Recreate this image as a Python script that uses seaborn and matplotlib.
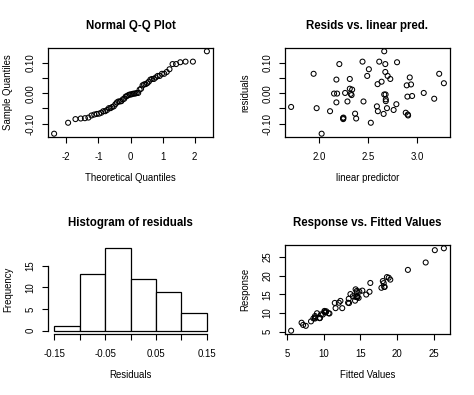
"""
gam_check.py
------------
Four-panel model check (Q-Q, residuals vs linear predictor,
histogram of residuals, response vs fitted) drawn R-style.
"""

import statistics
import numpy as np
import pandas as pd
import matplotlib
matplotlib.use("Agg")
import matplotlib.pyplot as plt
import seaborn as sns

# one entry per observation (58), paired across the four lists
linear_pred = [1.712, 1.942, 1.973, 2.024, 2.110, 2.151, 2.182, 2.175, 2.175, 2.205,
               2.243, 2.245, 2.247, 2.264, 2.288, 2.312, 2.312, 2.336, 2.322, 2.366,
               2.377, 2.442, 2.452, 2.490, 2.507, 2.527, 2.589, 2.599, 2.596, 2.613,
               2.637, 2.658, 2.664, 2.675, 2.675, 2.664, 2.678, 2.680, 2.680, 2.699,
               2.692, 2.726, 2.760, 2.788, 2.795, 2.894, 2.901, 2.884, 2.908, 2.905,
               2.925, 2.938, 2.949, 3.068, 3.175, 3.226, 3.274, 2.330]
residuals = [-0.045, 0.064, -0.049, -0.133, -0.059, -0.001, -0.001, -0.030, 0.045, 0.096,
             -0.082, -0.085, -0.080, 0.001, -0.027, 0.047, 0.015, 0.012, -0.002, -0.067,
             -0.083, 0.104, -0.027, 0.057, 0.079, -0.097, -0.043, -0.059, 0.030, 0.104,
             0.038, -0.068, 0.138, 0.096, 0.070, -0.004, -0.004, -0.020, -0.026, 0.057,
             -0.049, 0.047, -0.055, -0.036, 0.102, 0.026, -0.011, -0.064, -0.073, -0.070,
             0.052, 0.029, -0.009, 0.001, -0.018, 0.064, 0.033, -0.006]
fitted = [5.53, 6.96, 7.17, 7.54, 8.25, 8.58, 8.85, 8.80, 8.80, 9.07,
          9.42, 9.44, 9.46, 9.62, 9.86, 10.09, 10.09, 10.34, 10.20, 10.65,
          10.77, 11.50, 11.61, 12.06, 12.27, 12.52, 13.32, 13.45, 13.41, 13.64,
          13.97, 14.27, 14.35, 14.51, 14.51, 14.35, 14.56, 14.58, 14.58, 14.86,
          14.76, 15.27, 15.80, 16.25, 16.36, 18.07, 18.19, 17.88, 18.32, 18.26,
          18.63, 18.88, 19.09, 21.50, 23.93, 25.18, 26.42, 10.28]
response = [5.28, 7.41, 6.82, 6.58, 7.77, 8.57, 8.84, 8.54, 9.20, 9.94,
            8.65, 8.64, 8.70, 9.63, 9.59, 10.56, 10.24, 10.46, 10.18, 9.94,
            9.88, 12.70, 11.30, 12.75, 13.24, 11.30, 12.75, 12.66, 13.81, 15.06,
            14.50, 13.30, 16.33, 15.90, 15.53, 14.29, 14.50, 14.29, 14.20, 15.71,
            14.04, 15.99, 14.93, 15.67, 18.03, 18.54, 17.99, 16.74, 16.98, 16.98,
            19.60, 19.43, 18.92, 21.52, 23.50, 26.79, 27.29, 10.22]
hist_breaks = [-0.15, -0.10, -0.05, 0.00, 0.05, 0.10, 0.15]

FONT = ["Liberation Sans", "DejaVu Sans"]
TICK_FS = 6.9
TITLE_FS = 8.3


def r_lim(vals):
    """R's default axis range: data range widened by 4% each side."""
    lo, hi = min(vals), max(vals)
    pad = (hi - lo) * 0.04
    return lo - pad, hi + pad


def r_style(ax, title, xlabel, ylabel, box=True):
    ax.set_title(title, fontsize=TITLE_FS, fontweight="bold", pad=13.5, color="black")
    ax.set_xlabel(xlabel, fontsize=TICK_FS)
    ax.set_ylabel(ylabel, fontsize=TICK_FS)
    ax.xaxis.set_label_coords(0.5, -0.41)
    ax.yaxis.set_label_coords(-0.21, 0.5)
    ax.tick_params(axis="both", direction="out", length=4, width=0.8,
                   labelsize=TICK_FS, color="black")
    ax.tick_params(axis="x", pad=6.5)
    ax.tick_params(axis="y", pad=5, labelrotation=90)
    for lab in ax.get_yticklabels():
        lab.set_va("center")
    for side in ax.spines.values():
        side.set_color("black")
        side.set_linewidth(0.9)
    if not box:
        ax.spines["top"].set_visible(False)
        ax.spines["right"].set_visible(False)
    ax.grid(False)


def sparse_labels(ticks, keep):
    return [f"{t:.2f}" if k else "" for t, k in zip(ticks, keep)]


sns.set_style("ticks")
plt.rcParams["font.family"] = FONT
plt.rcParams["axes.unicode_minus"] = False
plt.rcParams["text.color"] = "black"
plt.rcParams["axes.labelcolor"] = "black"
plt.rcParams["xtick.labelcolor"] = "black"
plt.rcParams["ytick.labelcolor"] = "black"

df = pd.DataFrame({"lp": linear_pred, "resid": residuals,
                   "fitted": fitted, "response": response})

# Q-Q: sorted residuals against normal quantiles of ppoints(n)
n = len(residuals)
nd = statistics.NormalDist()
qq = pd.DataFrame({
    "theo": [nd.inv_cdf((i + 0.5) / n) for i in range(n)],
    "sample": sorted(residuals),
})

fig = plt.figure(figsize=(4.74, 3.95), dpi=100)
W, H = 474, 395
boxes = [(48, 48), (285, 48), (48, 245), (285, 245)]
axes = [fig.add_axes([x / W, 1 - (y + 89) / H, 165 / W, 89 / H]) for x, y in boxes]

mk = dict(marker="o", s=13, facecolor="none", edgecolor="black", linewidth=0.75)
res_ticks = [-0.10, -0.05, 0.00, 0.05, 0.10]
res_keep = [True, False, True, False, True]

ax = axes[0]
sns.scatterplot(data=qq, x="theo", y="sample", ax=ax, **mk)
ax.set_xlim(r_lim(qq["theo"]))
ax.set_ylim(r_lim(residuals))
ax.set_xticks([-2, -1, 0, 1, 2])
ax.set_yticks(res_ticks)
ax.set_yticklabels(sparse_labels(res_ticks, res_keep))
r_style(ax, "Normal Q-Q Plot", "Theoretical Quantiles", "Sample Quantiles")

ax = axes[1]
sns.scatterplot(data=df, x="lp", y="resid", ax=ax, **mk)
ax.set_xlim(r_lim(linear_pred))
ax.set_ylim(r_lim(residuals))
ax.set_xticks([2.0, 2.5, 3.0])
ax.set_xticklabels(["2.0", "2.5", "3.0"])
ax.set_yticks(res_ticks)
ax.set_yticklabels(sparse_labels(res_ticks, res_keep))
r_style(ax, "Resids vs. linear pred.", "linear predictor", "residuals")

ax = axes[2]
sns.histplot(data=df, x="resid", bins=hist_breaks, stat="count", ax=ax,
             color="white", edgecolor="black", linewidth=0.9, alpha=1)
counts = np.histogram(residuals, bins=hist_breaks)[0]
ax.set_xlim(r_lim(hist_breaks))
ax.set_ylim(r_lim([0, counts.max()]))
ax.set_xticks(hist_breaks)
ax.set_xticklabels(sparse_labels(hist_breaks, [True, False, True, False, True, False, True]))
ax.set_yticks([0, 5, 10, 15])
ax.spines["bottom"].set_bounds(hist_breaks[0], hist_breaks[-1])
ax.spines["left"].set_bounds(0, 15)
r_style(ax, "Histogram of residuals", "Residuals", "Frequency", box=False)

ax = axes[3]
sns.scatterplot(data=df, x="fitted", y="response", ax=ax, **mk)
ax.set_xlim(r_lim(fitted))
ax.set_ylim(r_lim(response))
ax.set_xticks([5, 10, 15, 20, 25])
ax.set_yticks([5, 10, 15, 20, 25])
r_style(ax, "Response vs. Fitted Values", "Fitted Values", "Response")

fig.savefig("out.png", dpi=100)
plt.close(fig)
